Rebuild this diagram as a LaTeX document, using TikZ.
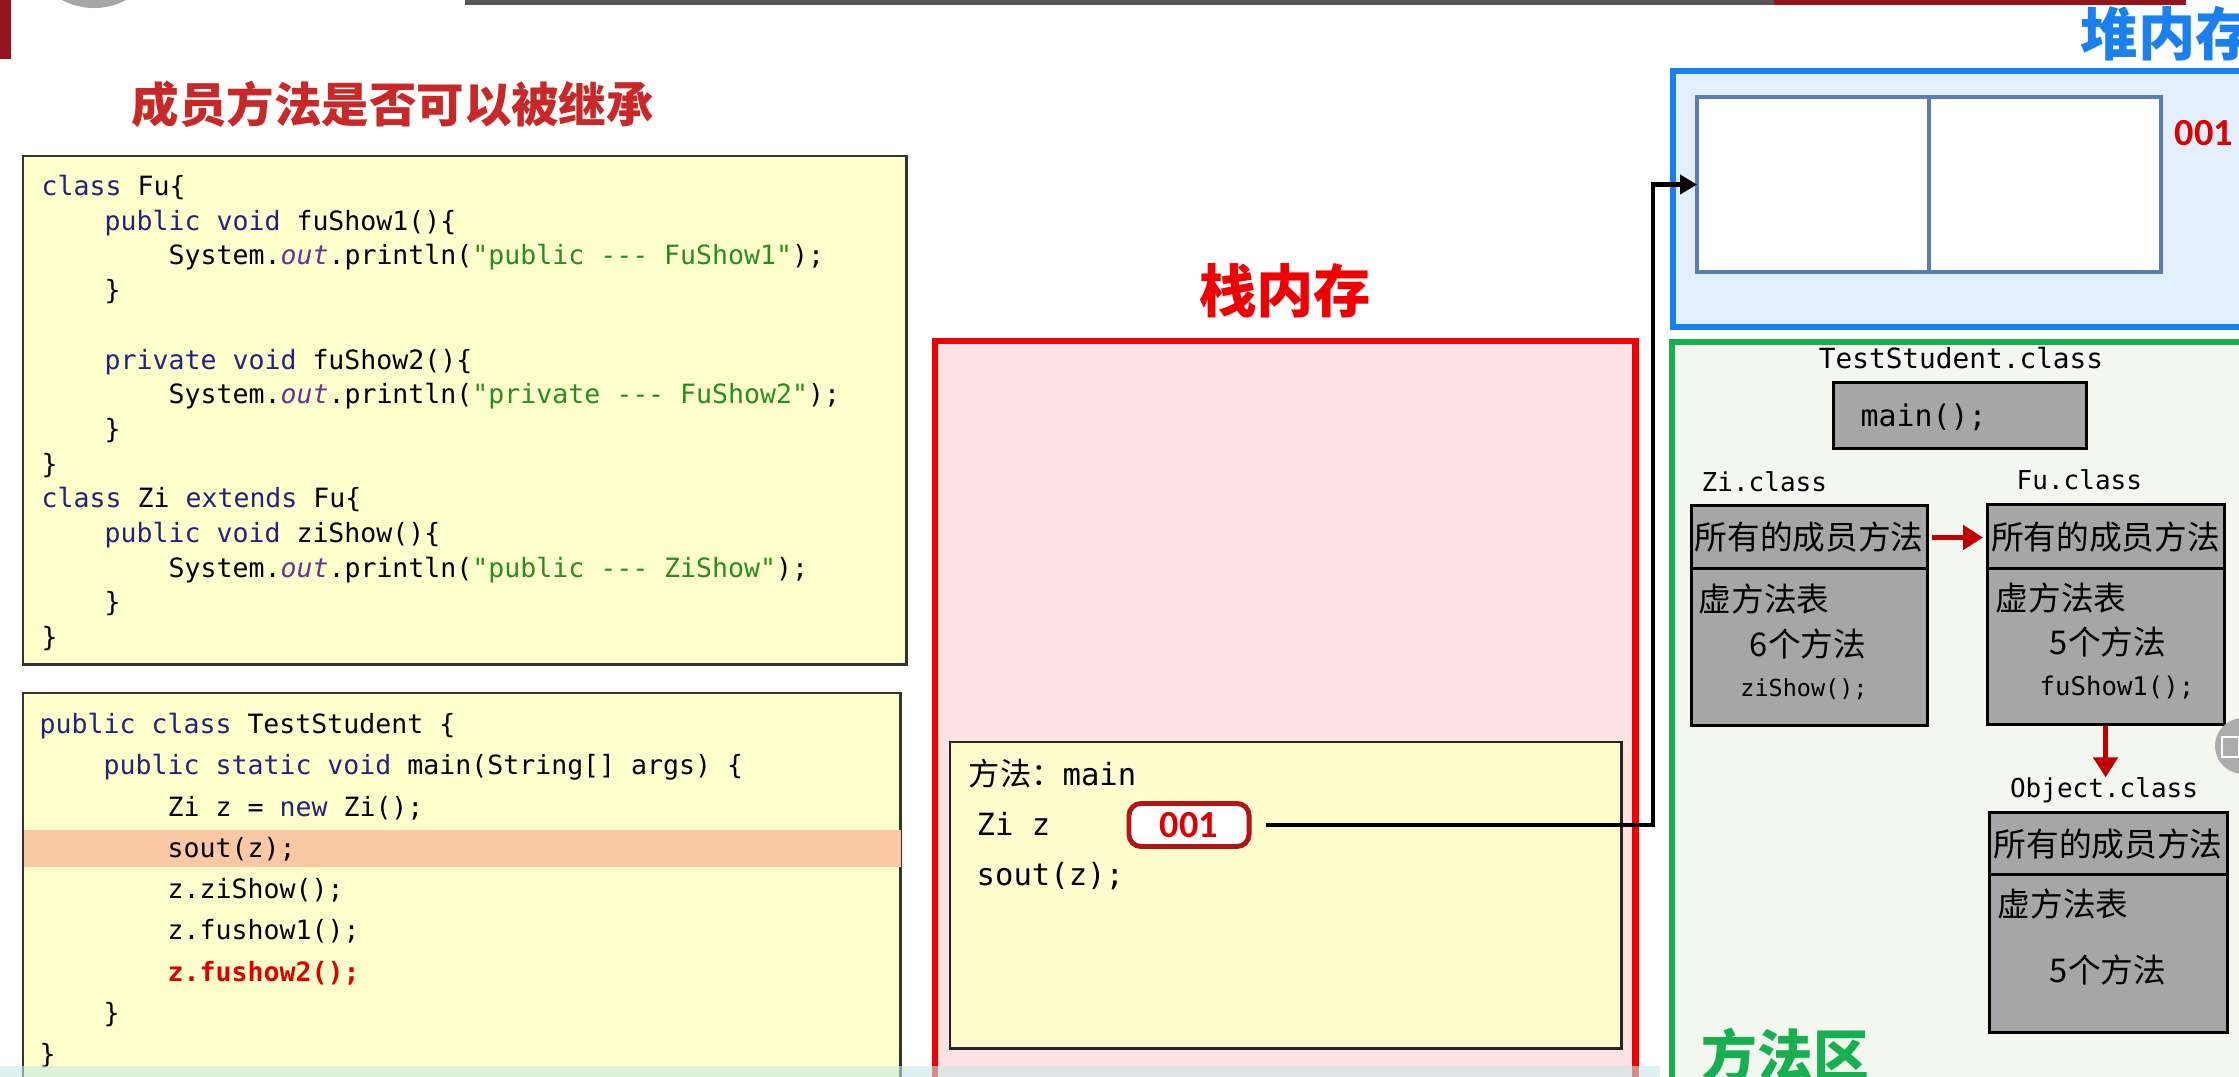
\documentclass[tikz,border=0pt]{standalone}
\usepackage{fontspec}
\setmonofont{DejaVu Sans Mono}
\newfontfamily\cjk{Noto Sans CJK SC}
\newfontfamily\numfont{Carlito}
\usetikzlibrary{arrows.meta}

\definecolor{kwc}{RGB}{35,35,125}
\definecolor{strc}{RGB}{40,140,30}
\definecolor{fldc}{RGB}{105,50,150}
\definecolor{codebg}{RGB}{255,255,204}
\definecolor{hilite}{RGB}{250,200,162}
\definecolor{titlered}{RGB}{200,40,40}
\definecolor{stackred}{RGB}{240,0,0}
\definecolor{stackbg}{RGB}{253,226,228}
\definecolor{framebg}{RGB}{255,253,206}
\definecolor{heapblue}{RGB}{26,128,240}
\definecolor{heapbg}{RGB}{227,240,251}
\definecolor{cellblue}{RGB}{88,124,180}
\definecolor{areagreen}{RGB}{22,176,80}
\definecolor{areabg}{RGB}{244,246,240}
\definecolor{boxgray}{RGB}{166,166,166}
\definecolor{arrowred}{RGB}{192,0,0}
\definecolor{refred}{RGB}{220,0,0}
\definecolor{refborder}{RGB}{180,20,20}
\definecolor{barred}{RGB}{150,20,30}
\definecolor{bargray}{RGB}{85,85,85}
\definecolor{bandcyan}{RGB}{200,232,230}

\newcommand{\jkw}[1]{\textcolor{kwc}{#1}}
\newcommand{\jstr}[1]{\textcolor{strc}{#1}}
\newcommand{\jfld}[1]{\textcolor{fldc}{\itshape #1}}

\begin{document}
\begin{tikzpicture}[x=0.01cm,y=-0.01cm,
  panel/.style={anchor=north west, inner sep=0pt, outer sep=0pt},
  codeline/.style={anchor=base west, inner sep=0pt, font=\ttfamily\fontsize{7.55}{9}\selectfont},
  frametext/.style={anchor=base west, inner sep=0pt, font=\ttfamily\fontsize{8.7}{10}\selectfont},
  graybox/.style={panel, draw=black, line width=0.85pt, fill=boxgray},
  cjkbox/.style={inner sep=0pt, font=\cjk\fontsize{9.3}{11}\selectfont},
  monolabel/.style={inner sep=0pt, font=\ttfamily\fontsize{7.4}{9}\selectfont},
  cell/.style={panel, draw=cellblue, line width=1.1pt, fill=white, minimum width=2.32cm, minimum height=1.75cm},
  blkarrow/.style={line width=1.3pt, -{Triangle[length=0.17cm,width=0.19cm]}},
  redarrow/.style={line width=1.5pt, arrowred, -{Triangle[length=0.2cm,width=0.24cm]}}
]
\useasboundingbox (0,0) rectangle (2239,1077);
\begin{scope}
\clip (0,0) rectangle (2239,1077);
\fill[white] (0,0) rectangle (2239,1077);

% top decorations (screen elements)
\fill[barred] (0,0) rectangle (11,59);
\fill[gray!70] (94,-60) circle[radius=0.68cm];
\fill[bargray] (465,0) rectangle (1774,5);
\fill[barred] (1774,0) rectangle (2186,5);

% title
\node[anchor=west, inner sep=0pt, text=titlered, font=\cjk\bfseries\fontsize{13.5}{15}\selectfont] (title) at (131,104) {成员方法是否可以被继承};

% code box 1
\node[panel, draw=black!80, line width=0.7pt, fill=codebg, minimum width=8.83cm, minimum height=5.08cm] (code1) at (23,156) {};
\node[codeline] (c1a) at (41,196) {\jkw{class} Fu\{};
\node[codeline] (c1b) at (104,231) {\jkw{public} \jkw{void} fuShow1()\{};
\node[codeline] (c1c) at (168,265) {System.\jfld{out}.println(\jstr{"public --- FuShow1"});};
\node[codeline] (c1d) at (104,300) {\}};
\node[codeline] (c1e) at (104,370) {\jkw{private} \jkw{void} fuShow2()\{};
\node[codeline] (c1f) at (168,404) {System.\jfld{out}.println(\jstr{"private --- FuShow2"});};
\node[codeline] (c1g) at (104,439) {\}};
\node[codeline] (c1h) at (41,474) {\}};
\node[codeline] (c1i) at (41,508) {\jkw{class} Zi \jkw{extends} Fu\{};
\node[codeline] (c1j) at (104,543) {\jkw{public} \jkw{void} ziShow()\{};
\node[codeline] (c1k) at (168,578) {System.\jfld{out}.println(\jstr{"public --- ZiShow"});};
\node[codeline] (c1l) at (104,612) {\}};
\node[codeline] (c1m) at (41,647) {\}};

% code box 2
\node[panel, draw=black!80, line width=0.7pt, fill=codebg, minimum width=8.77cm, minimum height=4.07cm] (code2) at (23,693) {};
\node[panel, fill=hilite, minimum width=8.76cm, minimum height=0.37cm] (hl) at (24,830) {};
\node[codeline] (c2a) at (39,734) {\jkw{public} \jkw{class} TestStudent \{};
\node[codeline] (c2b) at (103,775) {\jkw{public} \jkw{static} \jkw{void} main(String[] args) \{};
\node[codeline] (c2c) at (167,817) {Zi z = \jkw{new} Zi();};
\node[codeline] (c2d) at (167,858) {sout(z);};
\node[codeline] (c2e) at (167,899) {z.ziShow();};
\node[codeline] (c2f) at (167,940) {z.fushow1();};
\node[codeline, text=refred, font=\ttfamily\bfseries\fontsize{7.55}{9}\selectfont] (c2g) at (167,982) {z.fushow2();};
\node[codeline] (c2h) at (103,1023) {\}};
\node[codeline] (c2i) at (39,1064) {\}};

% stack memory
\node[inner sep=0pt, text=stackred, font=\cjk\bfseries\fontsize{16.3}{18}\selectfont] (stacktitle) at (1285,291) {栈内存};
\node[panel, draw=stackred, line width=1.8pt, fill=stackbg, minimum width=7.00cm, minimum height=8cm] (stack) at (935,341) {};
\node[panel, draw=black!85, line width=0.8pt, fill=framebg, minimum width=6.71cm, minimum height=3.06cm] (frame) at (950,742) {};
\node[frametext] (fm1) at (968,786) {{\cjk\fontsize{8.9}{10}\selectfont 方法：}main};
\node[frametext] (fm2) at (976,836) {Zi z};
\node[frametext] (fm3) at (976,886) {sout(z);};
\node[draw=refborder, line width=1.4pt, fill=white, rounded corners=0.12cm, minimum width=1.20cm, minimum height=0.43cm, inner sep=0pt, text=refred, font=\numfont\bfseries\fontsize{10.9}{12}\selectfont] (ref) at (1189,825) {001};

% heap memory
\node[anchor=west, inner sep=0pt, text=heapblue, font=\cjk\bfseries\fontsize{16.3}{18}\selectfont] (heaptitle) at (2080,34) {堆内存};
\node[panel, draw=heapblue, line width=1.7pt, fill=heapbg, minimum width=6.0cm, minimum height=2.56cm] (heap) at (1673,71) {};
\node[cell] (cellL) at (1697,97) {};
\node[cell] (cellR) at (1929,97) {};
\node[anchor=west, inner sep=0pt, text=refred, font=\numfont\bfseries\fontsize{10.9}{12}\selectfont] (heapaddr) at (2174,133) {001};

% method area
\node[panel, draw=areagreen, line width=1.6pt, fill=areabg, minimum width=6.0cm, minimum height=7.6cm] (area) at (1672,342) {};
\node[anchor=west, inner sep=0pt, text=areagreen, font=\cjk\bfseries\fontsize{15.85}{18}\selectfont] (areatitle) at (1701,1055) {方法区};

\node[anchor=base, monolabel, font=\ttfamily\fontsize{7.9}{9}\selectfont] (tslabel) at (1961,369) {TestStudent.class};
\node[graybox, minimum width=2.53cm, minimum height=0.65cm] (mainbox) at (1833,383) {};
\node[anchor=base west, inner sep=0pt, font=\ttfamily\fontsize{8.5}{10}\selectfont] (maintext) at (1860,427) {main();};

\node[anchor=base west, monolabel] (zilabel) at (1701,492) {Zi.class};
\node[graybox, cjkbox, minimum width=2.36cm, minimum height=0.63cm] (ziTop) at (1691,506) {所有的成员方法};
\node[graybox, minimum width=2.36cm, minimum height=1.56cm] (ziBody) at (1691,569) {};
\node[cjkbox, anchor=west] (zivt) at (1698,599) {虚方法表};
\node[cjkbox] (zicount) at (1808,644) {6个方法};
\node[anchor=base, inner sep=0pt, font=\ttfamily\fontsize{6.67}{8}\selectfont] (zimeth) at (1804,697) {ziShow();};

\node[anchor=base west, monolabel] (fulabel) at (2016,490) {Fu.class};
\node[graybox, cjkbox, minimum width=2.37cm, minimum height=0.64cm] (fuTop) at (1987,505) {所有的成员方法};
\node[graybox, minimum width=2.37cm, minimum height=1.55cm] (fuBody) at (1987,569) {};
\node[cjkbox, anchor=west] (fuvt) at (1995,598) {虚方法表};
\node[cjkbox] (fucount) at (2108,642) {5个方法};
\node[anchor=base, inner sep=0pt, font=\ttfamily\fontsize{7.3}{9}\selectfont] (fumeth) at (2117,696) {fuShow1();};

\node[anchor=base, monolabel] (objlabel) at (2104,798) {Object.class};
\node[graybox, cjkbox, minimum width=2.38cm, minimum height=0.62cm] (objTop) at (1989,813) {所有的成员方法};
\node[graybox, minimum width=2.38cm, minimum height=1.57cm] (objBody) at (1989,875) {};
\node[cjkbox, anchor=west] (objvt) at (1997,904) {虚方法表};
\node[cjkbox] (objcount) at (2108,970) {5个方法};

% connectors
\coordinate (bend) at (1653,500);
\draw[blkarrow, shorten <=0.14cm] (ref.east) -- (ref.east -| bend) -- (bend |- cellL.west) -- (cellL.west);
\draw[redarrow, shorten <=0.05cm, shorten >=0.04cm] (ziTop.east) -- (ziTop.east -| fuTop.west);
\draw[redarrow, shorten <=0.02cm] (fuBody.south) -- (fuBody.south |- objlabel.north);

% screen overlay elements
\fill[gray!65] (2243,746) circle[radius=0.28cm];
\draw[white, line width=0.8pt] (2222,737) rectangle (2239,757);
\fill[bandcyan, opacity=0.6] (0,1066) rectangle (1660,1077);
\end{scope}
\end{tikzpicture}
\end{document}
